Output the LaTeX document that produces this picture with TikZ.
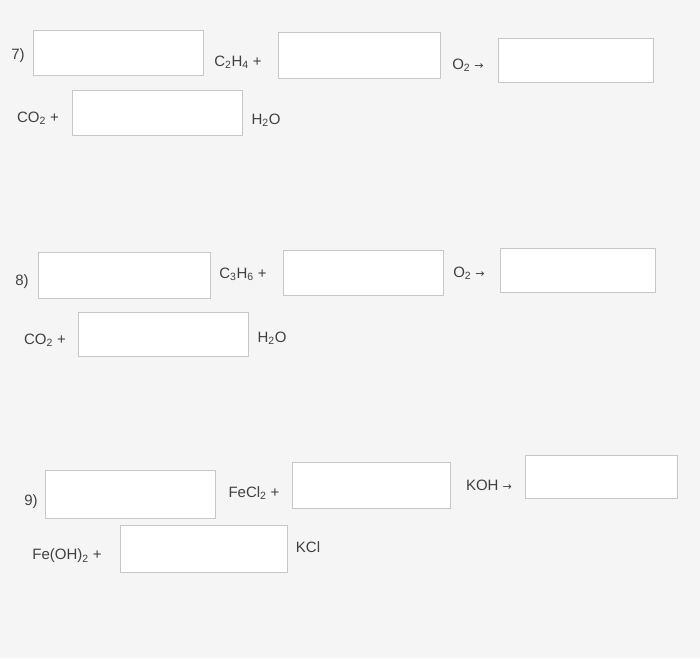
\documentclass[tikz,border=0pt]{standalone}
\usepackage{fontspec}
\setmainfont{Liberation Sans}
\newfontfamily\arrfont{DejaVu Sans}
\newcommand{\subx}[1]{\textsubscript{#1}}
\newcommand{\arx}{{\arrfont\fontsize{11}{13}\selectfont →}}
\begin{document}
\begin{tikzpicture}[x=1pt,y=-1pt,
  ans/.style={draw=black!22,line width=0.8pt,fill=white},
  lbl/.style={text=black!75,font=\fontsize{15}{17}\selectfont,inner sep=0pt}]
\fill[black!4] (0,0) rectangle (700,658);
\useasboundingbox (0,0) rectangle (700,658);
% 7
\node[lbl] (n7) at (18,56) {7)};
\draw[ans] (33,30) rectangle (203,75);
\node[lbl] (t71) at (238,62) {C\subx{2}H\subx{4} +};
\draw[ans] (278,32) rectangle (440,78);
\node[lbl] (t72) at (468,65) {O\subx{2} \arx};
\draw[ans] (498,38) rectangle (653,82);
\node[lbl] (t73) at (38,118) {CO\subx{2} +};
\draw[ans] (72,90) rectangle (242,135);
\node[lbl] (t74) at (266,120) {H\subx{2}O};
% 8
\node[lbl] (n8) at (22,282) {8)};
\draw[ans] (38,252) rectangle (210,298);
\node[lbl] (t81) at (243,274) {C\subx{3}H\subx{6} +};
\draw[ans] (283,250) rectangle (443,295);
\node[lbl] (t82) at (469,273) {O\subx{2} \arx};
\draw[ans] (500,248) rectangle (655,292);
\node[lbl] (t83) at (45,340) {CO\subx{2} +};
\draw[ans] (78,312) rectangle (248,356);
\node[lbl] (t84) at (272,338) {H\subx{2}O};
% 9
\node[lbl] (n9) at (31,502) {9)};
\draw[ans] (45,470) rectangle (215,518);
\node[lbl] (t91) at (254,493) {FeCl\subx{2} +};
\draw[ans] (292,462) rectangle (450,508);
\node[lbl] (t92) at (489,485) {KOH \arx};
\draw[ans] (525,455) rectangle (677,498);
\node[lbl] (t93) at (67,556) {Fe(OH)\subx{2} +};
\draw[ans] (120,525) rectangle (287,572);
\node[lbl] (t94) at (308,547) {KCl};
\end{tikzpicture}
\end{document}
